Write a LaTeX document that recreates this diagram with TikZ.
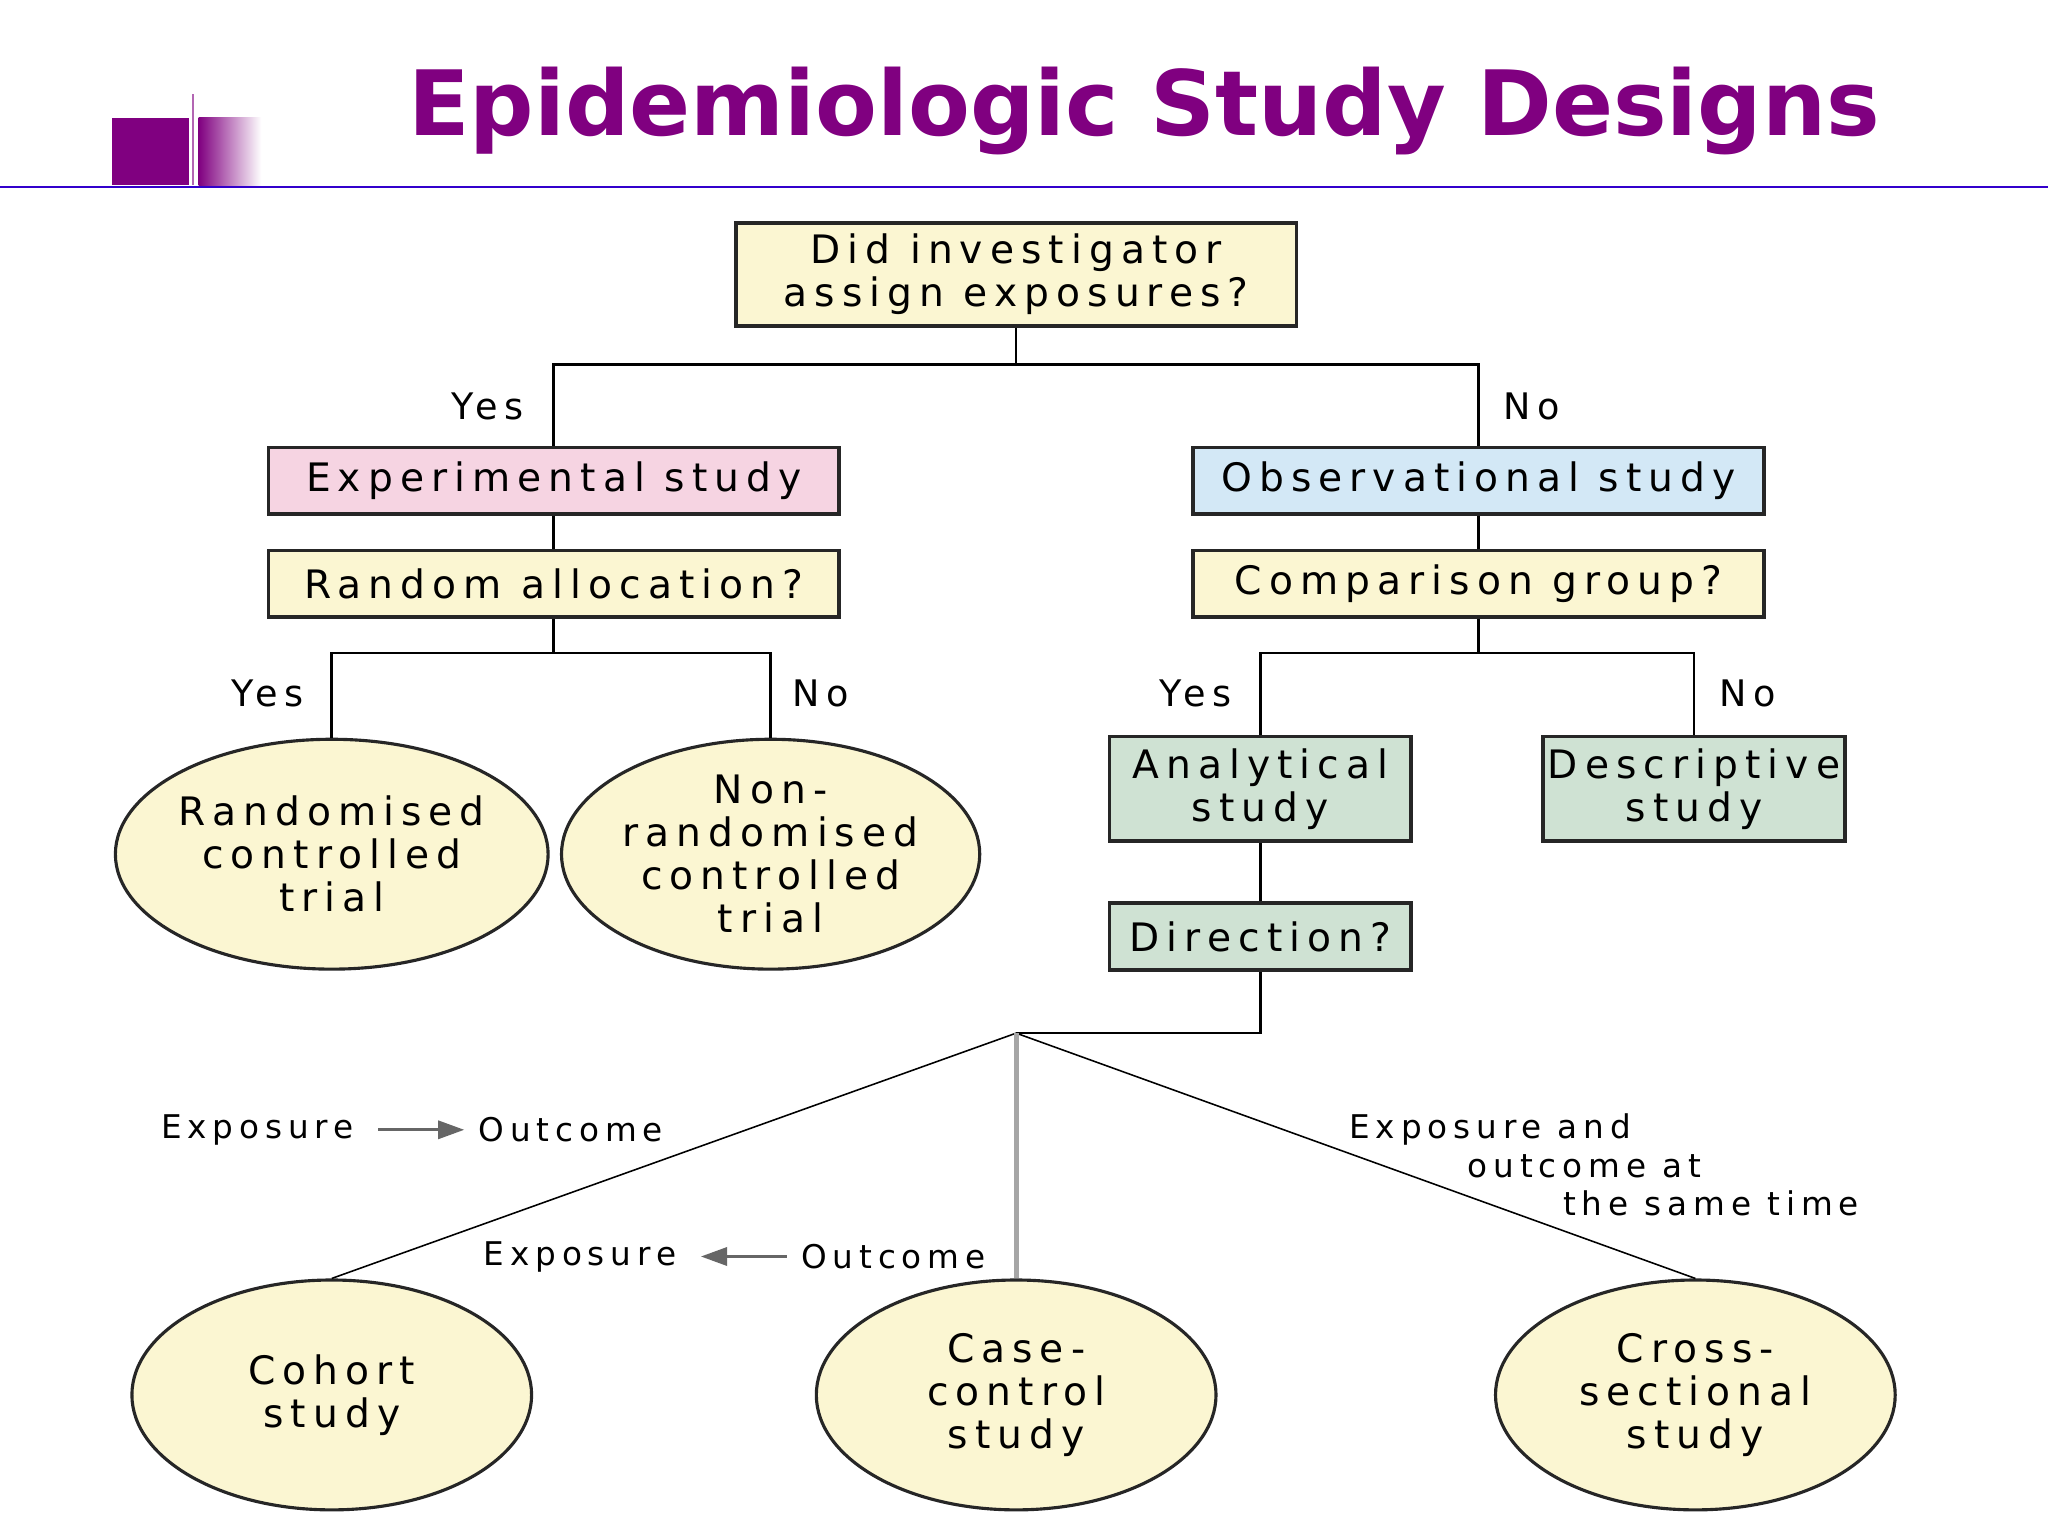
\documentclass[tikz,border=0pt]{standalone}
\usetikzlibrary{shapes.geometric,arrows.meta}
\usepackage{fontspec}
\setmainfont{DejaVu Sans}
\newfontfamily\widefont{DejaVu Sans}[LetterSpace=18]
\definecolor{purp}{HTML}{800080}
\definecolor{cream}{HTML}{FBF6D2}
\definecolor{pinkb}{HTML}{F6D4E2}
\definecolor{blueb}{HTML}{D3E8F6}
\definecolor{greenb}{HTML}{CFE2D3}
\begin{document}
\begin{tikzpicture}[x=0.5pt,y=-0.5pt,
 box/.style={draw=black!85,line width=1.4pt,fill=cream,inner sep=0pt,align=center,font=\widefont\fontsize{15}{16.5}\selectfont},
 ell/.style={draw=black!85,line width=1.2pt,fill=cream,ellipse,minimum width=153pt,minimum height=88pt,inner sep=0pt,align=center,font=\widefont\fontsize{15}{16.5}\selectfont},
 lab/.style={font=\widefont\fontsize{14}{16}\selectfont},
 sml/.style={font=\widefont\fontsize{12.5}{14}\selectfont},
 ln/.style={line width=1pt,black}]
\useasboundingbox (0,0) rectangle (1568,1176);
\fill[white] (0,0) rectangle (1568,1176);
% header
\fill[purp] (86,90) rectangle (145,142);
\shade[left color=purp,right color=white] (152,90) rectangle (200,142);
\draw[purp!60,line width=0.8pt] (148,72) -- (148,142);
\draw[blue!60!purp,line width=0.8pt] (0,143) -- (1568,143);
\node[text=purp,font=\fontsize{34.5}{38}\selectfont\bfseries] (title) at (876,85) {Epidemiologic Study Designs};
% boxes
\node[box,minimum width=214.5pt,minimum height=39.5pt] (q1) at (778,210) {Did investigator\\assign exposures?};
\node[box,fill=pinkb,minimum width=218.5pt,minimum height=25.5pt] (exp) at (424,368) {Experimental study};
\node[box,fill=blueb,minimum width=218.5pt,minimum height=25.5pt] (obs) at (1132,368) {Observational study};
\node[box,minimum width=218.5pt,minimum height=25.5pt] (ra) at (424,447) {Random allocation?};
\node[box,minimum width=218.5pt,minimum height=25.5pt] (cg) at (1132,447) {Comparison group?};
\node[box,fill=greenb,minimum width=115.5pt,minimum height=40pt] (an) at (965,604) {Analytical\\study};
\node[box,fill=greenb,minimum width=115.5pt,minimum height=40pt] (de) at (1297,604) {Descriptive\\study};
\node[box,fill=greenb,minimum width=115.5pt,minimum height=25.5pt] (di) at (965,717) {Direction?};
\node[ell] (rct) at (254,654) {Randomised\\controlled\\trial};
\node[ell] (nrct) at (590,654) {Non-\\randomised\\controlled\\trial};
\node[ell] (co) at (254,1068) {Cohort\\study};
\node[ell] (cc) at (778,1068) {Case-\\control\\study};
\node[ell] (cs) at (1298,1068) {Cross-\\sectional\\study};
% connectors
\draw[ln] (q1.south) -- (778,279) -| (exp.north);
\draw[ln] (778,279) -| (obs.north);
\draw[ln] (exp) -- (ra);
\draw[ln] (obs) -- (cg);
\draw[ln] (ra.south) -- (424,500) -| (rct.north);
\draw[ln] (424,500) -| (nrct.north);
\draw[ln] (cg.south) -- (1132,500) -| (an.north);
\draw[ln] (1132,500) -| (de.north);
\draw[ln] (an) -- (di);
\coordinate (hub) at (778,791);
\draw[ln] (di.south) -- (965,791) -- (hub);
\draw[line width=0.6pt] (hub) -- (co.north);
\draw[line width=0.6pt] (hub) -- (cs.north);
\draw[line width=2pt,black!35] (hub) -- (cc.north);
% labels
\node[lab] (y1) at (373,311) {Yes};
\node[lab] (n1) at (1173,311) {No};
\node[lab] (y2) at (205,531) {Yes};
\node[lab] (n2) at (628,531) {No};
\node[lab] (y3) at (915,531) {Yes};
\node[lab] (n3) at (1338,531) {No};
\node[sml] (e1) at (197,865) {Exposure};
\node[sml] (o1) at (437,865) {Outcome};
\draw[black!60,line width=1pt,-{Triangle[length=10pt,width=7pt]}] ([xshift=6]e1.east) -- ([xshift=-2]o1.west);
\node[sml] (e2) at (444,962) {Exposure};
\node[sml] (o2) at (684,962) {Outcome};
\draw[black!60,line width=1pt,-{Triangle[length=10pt,width=7pt]}] ([xshift=-2]o2.west) -- ([xshift=6]e2.east);
\node[sml] (t1) at (1141,865) {Exposure and};
\node[sml] (t2) at (1213,893) {outcome at};
\node[sml] (t3) at (1310,921) {the same time};
\end{tikzpicture}
\end{document}
